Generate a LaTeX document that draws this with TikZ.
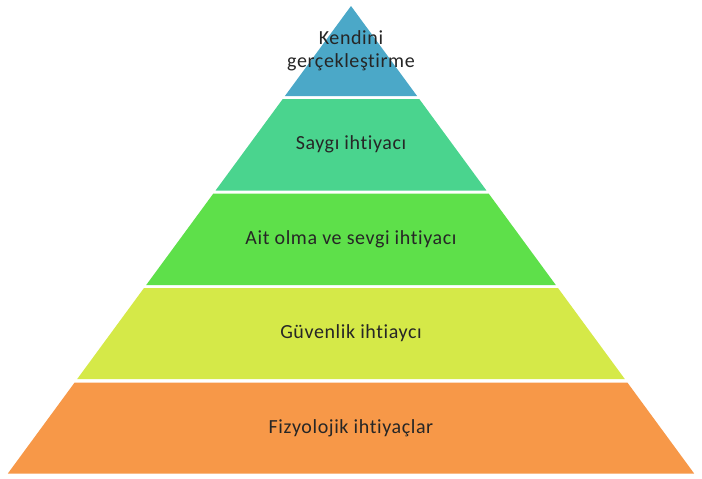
\documentclass[tikz,border=0pt]{standalone}
\usepackage{fontspec}
\setmainfont{Carlito}[Ligatures=NoCommon,LetterSpace=3]
\definecolor{selfcol}{HTML}{4BA8C8}
\definecolor{esteemcol}{HTML}{4AD48E}
\definecolor{lovecol}{HTML}{5EE04A}
\definecolor{safetycol}{HTML}{D5E948}
\definecolor{bodycol}{HTML}{F79848}
\tikzset{
  tier/.style={fill=#1,draw=none},
  tiertext/.style={font=\fontsize{20}{23}\selectfont,text=black!85,align=center}
}

\begin{document}
\begin{tikzpicture}[x=1pt,y=-1pt]
  \useasboundingbox[fill=white] (0,0) rectangle (702,479);
  % pyramid tiers, top to bottom
  \foreach \ya/\yb/\col/\name/\txt in {
      6/96/selfcol/self/{Kendini\\gerçekleştirme},
      99/190.5/esteemcol/esteem/{Saygı ihtiyacı},
      193.5/285/lovecol/love/{Ait olma ve sevgi ihtiyacı},
      288/379/safetycol/safety/{Güvenlik ihtiaycı},
      382.5/473.5/bodycol/body/{Fizyolojik ihtiyaçlar}} {
    \fill[tier=\col] ({351-0.734*(\ya-6)},\ya) -- ({351+0.734*(\ya-6)},\ya)
      -- ({351+0.734*(\yb-6)},\yb) -- ({351-0.734*(\yb-6)},\yb) -- cycle;
    \node[tiertext] (\name) at (351,{(\ya+\yb)/2}) {\txt};
  }
\end{tikzpicture}
\end{document}
